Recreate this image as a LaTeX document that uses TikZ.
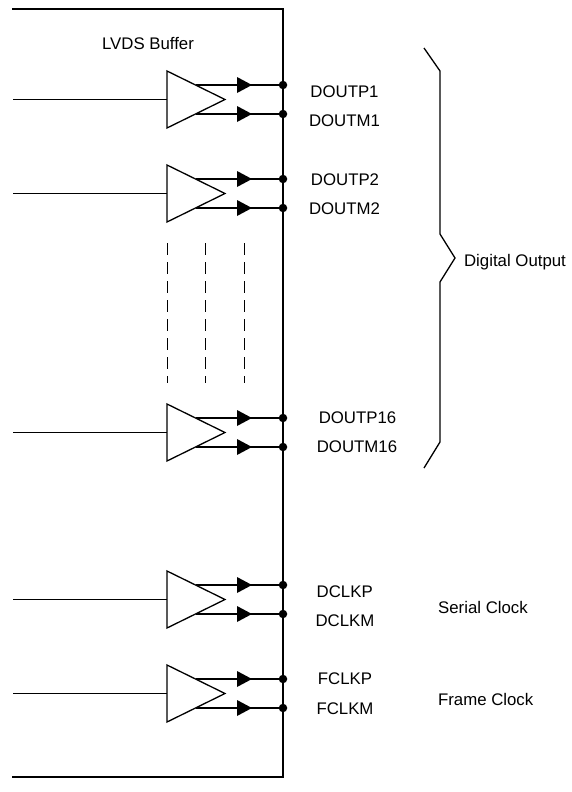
\documentclass[tikz,border=0pt]{standalone}
\usepackage{fontspec}
\setmainfont{Liberation Sans}
\begin{document}
\begin{tikzpicture}[x=1pt,y=-1pt,
  lbl/.style={font=\fontsize{16.8}{19}\selectfont,inner sep=0pt,text=black},
  wire/.style={line width=2pt,black},
  frame wire/.style={line width=2pt,black},
  thin wire/.style={line width=1.3pt,black},
  amp/.style={line width=1.3pt,black,fill=white,line join=miter},
  tap/.style={circle,fill=black,inner sep=0pt,minimum size=8.5pt},
  tip/.style={fill=black,draw=none},
  guide/.style={line width=1.3pt,black,dash pattern=on 12pt off 7pt},
  brace/.style={line width=1.3pt,black,line join=miter}]
\useasboundingbox (0,0) rectangle (571,792);
% enclosure
\coordinate (tl) at (13,9);
\coordinate (tr) at (283,9);
\coordinate (bl) at (13,777);
\coordinate (br) at (283,777);
\draw[frame wire,line cap=rect] (tl) -- (tr) -- (br) -- (bl);
% buffers: name / centre y
\foreach \n/\c in {a/99.5,b/193.5,c/432.5,d/599.5,e/693.5}{
  \coordinate (\n in) at (13,\c);
  \coordinate (\n L) at (167,\c);
  \coordinate (\n T) at (195.5,\c-14.5);
  \coordinate (\n B) at (195.5,\c+14.5);
  \node[tap] (\n P) at (283,\c-14.5) {};
  \node[tap] (\n M) at (283,\c+14.5) {};
  \draw[wire] (\n T) -- (\n P.center);
  \draw[wire] (\n B) -- (\n M.center);
  \draw[thin wire] (\n in) -- (\n L);
  \draw[amp] (167,\c-28.5) -- (167,\c+28.5) -- (225,\c) -- cycle;
  \fill[tip] (237,\c-22.5) -- (252,\c-14.5) -- (237,\c-6.5) -- cycle;
  \fill[tip] (237,\c+6.5) -- (252,\c+14.5) -- (237,\c+22.5) -- cycle;
}
% dashed guides
\foreach \n/\x in {p/167.5,q/205.5,r/244.5}{
  \coordinate (\n1) at (\x,243);
  \coordinate (\n2) at (\x,383);
  \draw[guide] (\n1) -- (\n2);
}
% brace
\coordinate (b0) at (424,48);
\coordinate (b1) at (440,71);
\coordinate (b2) at (440,234);
\coordinate (b3) at (455,258);
\coordinate (b4) at (440,282);
\coordinate (b5) at (440,442);
\coordinate (b6) at (424,468);
\draw[brace] (b0) -- (b1) -- (b2) -- (b3) -- (b4) -- (b5) -- (b6);
% labels
\node[lbl] (buf) at (148,44) {LVDS Buffer};
\node[lbl] (l1) at (344.5,91.3) {DOUTP1};
\node[lbl] (l2) at (344.5,120.7) {DOUTM1};
\node[lbl] (l3) at (345,179.5) {DOUTP2};
\node[lbl] (l4) at (344.5,208.7) {DOUTM2};
\node[lbl] (l5) at (357.5,418) {DOUTP16};
\node[lbl] (l6) at (357,447) {DOUTM16};
\node[lbl] (l7) at (344.7,591.3) {DCLKP};
\node[lbl] (l8) at (345,620.7) {DCLKM};
\node[lbl] (l9) at (345,678.7) {FCLKP};
\node[lbl] (l10) at (345,708.3) {FCLKM};
\node[lbl] (dig) at (515,262) {Digital Output};
\node[lbl] (ser) at (483,607) {Serial Clock};
\node[lbl] (frm) at (485.7,699.5) {Frame Clock};
\end{tikzpicture}
\end{document}
